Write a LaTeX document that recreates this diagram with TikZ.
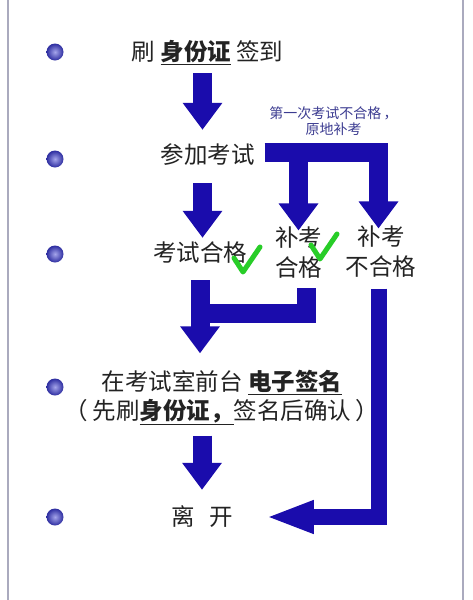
\documentclass[tikz,border=0pt]{standalone}
\usepackage{fontspec}
\newfontfamily\cjk{Noto Sans CJK SC}
\usetikzlibrary{arrows.meta, calc, positioning}
\definecolor{arrowblue}{RGB}{26,12,172}
\definecolor{noteblue}{RGB}{60,60,145}
\definecolor{textgray}{RGB}{35,35,35}
\definecolor{framegray}{RGB}{170,170,190}
\definecolor{checkgreen}{RGB}{40,205,40}
\definecolor{bulletlight}{RGB}{165,165,235}
\definecolor{bulletdark}{RGB}{45,45,160}
\tikzset{
  bigarrow/.style = {line width=19pt, draw=arrowblue, -{Triangle[length=27pt,width=38pt]}},
  longarrow/.style = {line width=16pt, draw=arrowblue, -{Triangle[length=48pt,width=30pt]}},
  bar/.style = {line width=19pt, draw=arrowblue},
  label/.style = {font=\cjk\fontsize{23.5}{29}\selectfont, text=textgray, inner sep=0pt, text height=20pt, text depth=3pt},
  twoline/.style = {font=\cjk\fontsize{23.5}{30}\selectfont, text=textgray, inner sep=0pt, align=center},
  note/.style = {font=\cjk\fontsize{14}{16}\selectfont, text=noteblue, inner sep=0pt, align=center},
  bullet/.style = {circle, minimum size=17pt, inner sep=0pt, shading=radial, inner color=bulletlight, outer color=bulletdark},
  tick/.pic = {\draw[checkgreen, line width=5pt, line cap=round, line join=round] (-12,-2) -- (-3,12) -- (14,-13);}
}
\begin{document}
\begin{tikzpicture}[x=1pt, y=-1pt]
		\useasboundingbox (0,0) rectangle (473,600);
		\fill[white] (0,0) rectangle (473,600);
		\draw[framegray, line width=2pt] (8,0) -- (8,600);
		\draw[framegray, line width=2pt] (463,0) -- (463,600);
		% bullets on the left
		\foreach \y/\n in {52/1, 159/2, 254/3, 387/4, 517/5}
			\node (Dot\n) [bullet] at (55,\y) {};
		% steps
		\node (CheckIn) [label] at (207.5,52) {刷 {\bfseries\underline{身份证}} 签到};
		\node (Exam) [label] at (207.5,155) {参加考试};
		\node (Note) [note] at (333.5,121) {第一次考试不合格\,，\\原地补考};
		\node (Pass) [label] at (200,253) {考试合格};
		\node (Retake) [twoline] at (298.5,253) {补考\\合格};
		\node (Fail) [twoline] at (381,252) {补考\\不合格};
		\node (Sign) [twoline, font=\cjk\fontsize{23.5}{29}\selectfont] at (222,397.5) {在考试室前台 {\bfseries\underline{电子签名}}\\（\hspace{0.2em}先刷{\bfseries\underline{身份证，}}签名后确认\hspace{0.2em}）};
		\node (Leave) [label] at (202,517) {离\hspace{0.6em}开};
		\pic at (246,260) {tick};
		\pic at (323,247) {tick};
		% arrows
		\draw [bigarrow, shorten <=9.5pt, shorten >=13.5pt] ([xshift=-5pt]CheckIn.south) -- ([xshift=-5pt]Exam.north);
		\draw [bigarrow, shorten <=16.5pt, shorten >=3.5pt] ([xshift=-5pt]Exam.south) -- ([xshift=2.5pt]Pass.north);
		\draw [bigarrow] ([xshift=10pt,yshift=2.5pt]Exam.east) -| ([xshift=-2.5pt,yshift=-2.5pt]Fail.north);
		\draw [bigarrow] ([yshift=2.5pt]Exam.east -| Retake.north) -- ([yshift=-3.5pt]Retake.north);
		\draw [bar] ([xshift=7.5pt,yshift=-9pt]Retake.south) |- ([yshift=-49pt]Pass.south);
		\draw [bigarrow, shorten <=15.5pt, shorten >=16.5pt] (Pass.south) -- (Pass.south |- Sign.north);
		\draw [bigarrow, shorten <=10.5pt, shorten >=15.5pt] (Sign.south -| Leave.north) -- (Leave.north);
		\draw [longarrow] ([xshift=-2pt,yshift=-10.5pt]Fail.south) |- ([xshift=33pt]Leave.east);
\end{tikzpicture}
\end{document}
